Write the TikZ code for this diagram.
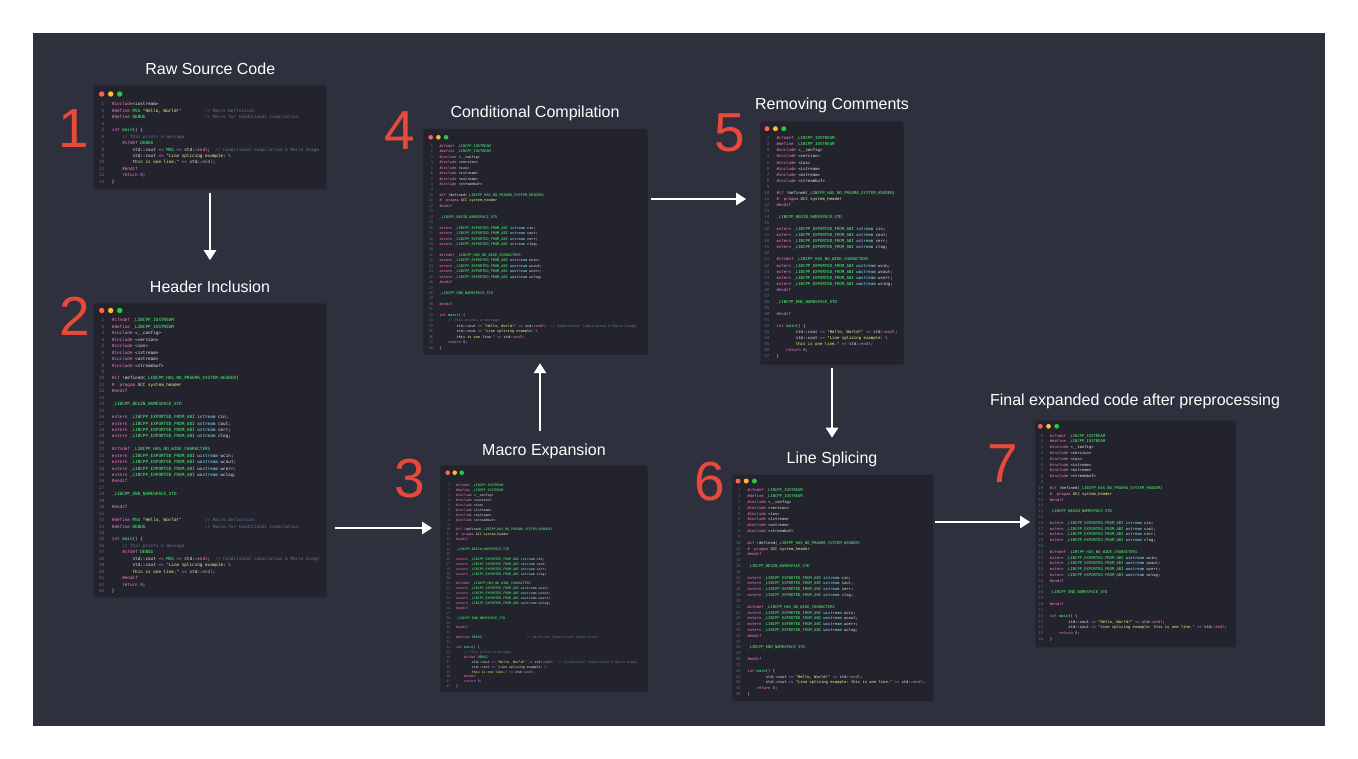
\documentclass[tikz,border=0pt]{standalone}
\usepackage{fontspec}
\setmainfont{Liberation Sans}
\setmonofont{DejaVu Sans Mono}
\usepackage{array}
\usetikzlibrary{arrows.meta}
\definecolor{cframe}{HTML}{2F303E}
\definecolor{cpanel}{HTML}{22232D}
\definecolor{cnumred}{HTML}{E8493B}
\definecolor{ckw}{HTML}{FF79C6}
\definecolor{cmac}{HTML}{50FA7B}
\definecolor{ccm}{HTML}{6C7396}
\definecolor{cstr}{HTML}{F1FA8C}
\definecolor{cty}{HTML}{8BE9FD}
\definecolor{cnum}{HTML}{BD93F9}
\definecolor{cfg}{HTML}{E8E8E2}
\definecolor{cln}{HTML}{6A6D80}
\definecolor{dotR}{HTML}{FF5F57}
\definecolor{dotY}{HTML}{FEBC2E}
\definecolor{dotG}{HTML}{28C840}
\newcommand\cxK[1]{\textcolor{ckw}{#1}}
\newcommand\cxG[1]{\textcolor{cmac}{#1}}
\newcommand\cxC[1]{\textcolor{ccm}{#1}}
\newcommand\cxY[1]{\textcolor{cstr}{#1}}
\newcommand\cxB[1]{\textcolor{cty}{#1}}
\newcommand\cxN[1]{\textcolor{cnum}{#1}}
\newcommand\pad[1]{\hspace*{\dimexpr 0.602em*#1\relax}}
\newcommand\Ldefmsg{\cxK{\#define} \cxG{MSG} \cxY{"Hello, World!"}\pad{9}\cxC{// Macro Definition}}
\newcommand\Ldefdbg{\cxK{\#define} \cxG{DEBUG}\pad{23}\cxC{// Macro for Conditional Compilation}}
\newcommand\Lmain{\cxK{int} \cxG{main}() \{}
\newcommand\Lcmt{\pad{4}\cxC{// This prints a message}}
\newcommand\Lifdef{\pad{4}\cxK{\#ifdef} \cxG{DEBUG}}
\newcommand\Lcoutmsg{\pad{8}std::cout \cxK{<<} \cxG{MSG} \cxK{<<} std::\cxK{endl};\pad{2}\cxC{// Conditional Compilation \& Macro Usage}}
\newcommand\Lcouthello{\pad{8}std::cout \cxK{<<} \cxY{"Hello, World!"} \cxK{<<} std::\cxK{endl};\pad{2}\cxC{// Conditional Compilation \& Macro Usage}}
\newcommand\Lhello{\pad{8}std::cout \cxK{<<} \cxY{"Hello, World!"} \cxK{<<} std::\cxK{endl};}
\newcommand\Lsplice{\pad{8}std::cout \cxK{<<} \cxY{"Line splicing example: \textbackslash}}
\newcommand\Lone{\pad{8}\cxY{this is one line."} \cxK{<<} std::\cxK{endl};}
\newcommand\Ljoined{\pad{8}std::cout \cxK{<<} \cxY{"Line splicing example: this is one line."} \cxK{<<} std::\cxK{endl};}
\newcommand\Lendif{\pad{4}\cxK{\#endif}}
\newcommand\Lret{\pad{4}\cxK{return} \cxN{0};}
\newcommand\Lclose{\}}
\newcommand\hdr{%
1 & \cxK{\#ifndef} \cxG{\_LIBCPP\_IOSTREAM} \\
2 & \cxK{\#define} \cxG{\_LIBCPP\_IOSTREAM} \\
3 & \cxK{\#include} <\_\_config> \\
4 & \cxK{\#include} <version> \\
5 & \cxK{\#include} <ios> \\
6 & \cxK{\#include} <istream> \\
7 & \cxK{\#include} <ostream> \\
8 & \cxK{\#include} <streambuf> \\
9 & \\
10 & \cxK{\#if} !defined(\cxG{\_LIBCPP\_HAS\_NO\_PRAGMA\_SYSTEM\_HEADER}) \\
11 & \cxK{\#}\pad{2}\cxK{pragma} \cxY{GCC system\_header} \\
12 & \cxK{\#endif} \\
13 & \\
14 & \cxG{\_LIBCPP\_BEGIN\_NAMESPACE\_STD} \\
15 & \\
16 & \cxK{extern} \cxG{\_LIBCPP\_EXPORTED\_FROM\_ABI} \cxB{istream} cin; \\
17 & \cxK{extern} \cxG{\_LIBCPP\_EXPORTED\_FROM\_ABI} \cxB{ostream} cout; \\
18 & \cxK{extern} \cxG{\_LIBCPP\_EXPORTED\_FROM\_ABI} \cxB{ostream} cerr; \\
19 & \cxK{extern} \cxG{\_LIBCPP\_EXPORTED\_FROM\_ABI} \cxB{ostream} clog; \\
20 & \\
21 & \cxK{\#ifndef} \cxG{\_LIBCPP\_HAS\_NO\_WIDE\_CHARACTERS} \\
22 & \cxK{extern} \cxG{\_LIBCPP\_EXPORTED\_FROM\_ABI} \cxB{wistream} wcin; \\
23 & \cxK{extern} \cxG{\_LIBCPP\_EXPORTED\_FROM\_ABI} \cxB{wostream} wcout; \\
24 & \cxK{extern} \cxG{\_LIBCPP\_EXPORTED\_FROM\_ABI} \cxB{wostream} wcerr; \\
25 & \cxK{extern} \cxG{\_LIBCPP\_EXPORTED\_FROM\_ABI} \cxB{wostream} wclog; \\
26 & \cxK{\#endif} \\
27 & \\
28 & \cxG{\_LIBCPP\_END\_NAMESPACE\_STD} \\
29 & \\
30 & \cxK{\#endif} \\}
\newcommand\codeblock[6]{%
  \node[codetext, font={\ttfamily\fontsize{#4}{#5}\selectfont}, anchor=base west] (#1) at ({#2-3*#4}, #3)
  {\begin{tabular}[t]{@{}>{\color{cln}}r@{\hspace{1.8em}}l@{}}#6\end{tabular}};}
\newcommand\wdots[4]{%
  \fill[dotR] (#1,#2) circle (#4pt);
  \fill[dotY] ({#1+#3},#2) circle (#4pt);
  \fill[dotG] ({#1+2*#3},#2) circle (#4pt);}
\begin{document}
\begin{tikzpicture}[x=1pt,y=-1pt,
  panel/.style={fill=cpanel, draw=none, rounded corners=1.5pt, inner sep=0},
  codetext/.style={inner sep=0, text=cfg},
  ttl/.style={inner sep=0, text=white, font=\fontsize{16}{19}\selectfont},
  bignum/.style={inner sep=0, text=cnumred, font=\fontsize{55}{60}\selectfont},
  flow/.style={draw=white, line width=2.8pt, -{Triangle[length=10pt,width=12pt]}}]
\fill[white] (0,0) rectangle (1358,759);
\path[use as bounding box] (0,0) rectangle (1358,759);
\fill[cframe] (33,33) rectangle (1325,726);

% panels
\node[panel, minimum width=233pt, minimum height=104pt] (P1) at (210,137.5) {};
\node[panel, minimum width=233pt, minimum height=294.4pt] (P2) at (210,450.5) {};
\node[panel, minimum width=207.2pt, minimum height=226.7pt] (P3) at (543.9,578.7) {};
\node[panel, minimum width=224.4pt, minimum height=226pt] (P4) at (535.5,242) {};
\node[panel, minimum width=143.4pt, minimum height=243.4pt] (P5) at (832,243) {};
\node[panel, minimum width=200.7pt, minimum height=226.3pt] (P6) at (832.7,587.9) {};
\node[panel, minimum width=200.7pt, minimum height=226.6pt] (P7) at (1135.7,534) {};

% window dots
\wdots{101.7}{94}{9}{2.7}
\wdots{101.7}{310.5}{9}{2.7}
\wdots{447.7}{472.7}{7}{2.3}
\wdots{430.7}{137.3}{7.7}{2.3}
\wdots{767}{128.7}{8.4}{2.5}
\wdots{738}{481}{8.2}{2.5}
\wdots{1040.3}{426.3}{8.2}{2.4}

% code
\codeblock{C1}{111.7}{106}{4.3}{6.44}{%
1 & \cxK{\#include}<iostream> \\
2 & \Ldefmsg \\
3 & \Ldefdbg \\
4 & \\
5 & \Lmain \\
6 & \Lcmt \\
7 & \Lifdef \\
8 & \Lcoutmsg \\
9 & \Lsplice \\
10 & \Lone \\
11 & \Lendif \\
12 & \Lret \\
13 & \Lclose}
\codeblock{C2}{111.7}{322}{4.3}{6.44}{\hdr
31 & \\
32 & \Ldefmsg \\
33 & \Ldefdbg \\
34 & \\
35 & \Lmain \\
36 & \Lcmt \\
37 & \Lifdef \\
38 & \Lcoutmsg \\
39 & \Lsplice \\
40 & \Lone \\
41 & \Lendif \\
42 & \Lret \\
43 & \Lclose}
\codeblock{C3}{456}{486.8}{3.26}{4.9}{\hdr
31 & \\
32 & \Ldefdbg \\
33 & \\
34 & \Lmain \\
35 & \Lcmt \\
36 & \Lifdef \\
37 & \Lcouthello \\
38 & \Lsplice \\
39 & \Lone \\
40 & \Lendif \\
41 & \Lret \\
42 & \Lclose}
\codeblock{C4}{439.3}{147.4}{3.55}{5.45}{\hdr
31 & \\
32 & \Lmain \\
33 & \Lcmt \\
34 & \Lcouthello \\
35 & \Lsplice \\
36 & \Lone \\
37 & \Lret \\
38 & \Lclose}
\codeblock{C5}{776.3}{139.8}{4.02}{6.06}{\hdr
31 & \\
32 & \Lmain \\
33 & \Lhello \\
34 & \Lsplice \\
35 & \Lone \\
36 & \Lret \\
37 & \Lclose}
\codeblock{C6}{747.3}{491.8}{3.82}{5.82}{\hdr
31 & \\
32 & \Lmain \\
33 & \Lhello \\
34 & \Ljoined \\
35 & \Lret \\
36 & \Lclose}
\codeblock{C7}{1049.7}{437.1}{3.82}{5.81}{\hdr
31 & \\
32 & \Lmain \\
33 & \Lhello \\
34 & \Ljoined \\
35 & \Lret \\
36 & \Lclose}

% titles
\node[ttl, anchor=base] (T1) at (210.3,74.3) {Raw Source Code};
\node[ttl, anchor=base] (T2) at (210,293) {Header Inclusion};
\node[ttl, anchor=base] (T3) at (544,455) {Macro Expansion};
\node[ttl, anchor=base] (T4) at (535,118) {Conditional Compilation};
\node[ttl, anchor=base] (T5) at (832,110) {Removing Comments};
\node[ttl, anchor=base] (T6) at (832,463) {Line Splicing};
\node[ttl, anchor=base] (T7) at (1135,405.7) {Final expanded code after preprocessing};

% step numbers
\node[bignum, anchor=base] (N1) at (74,148) {1};
\node[bignum, anchor=base] (N2) at (75,336) {2};
\node[bignum, anchor=base] (N3) at (410,497) {3};
\node[bignum, anchor=base] (N4) at (400,150) {4};
\node[bignum, anchor=base] (N5) at (730,152) {5};
\node[bignum, anchor=base] (N6) at (710,500) {6};
\node[bignum, anchor=base] (N7) at (1003,482) {7};

% connectors
\coordinate (row528) at (0,528);
\coordinate (row199) at (0,199);
\coordinate (row522) at (0,522);
\coordinate (col540) at (540,0);
\draw[flow, shorten <=3pt, shorten >=21pt] (P1.south) -- (P1.south |- T2.north);
\draw[flow, shorten <=8.5pt, shorten >=8pt] (P2.east |- row528) -- (P3.west |- row528);
\draw[flow, shorten <=12pt, shorten >=8pt] (T3.north -| col540) -- (P4.south -| col540);
\draw[flow, shorten <=3.5pt, shorten >=14pt] (P4.east |- row199) -- (P5.west |- row199);
\draw[flow, shorten <=3.5pt, shorten >=13.5pt] (P5.south) -- (P5.south |- T6.north);
\draw[flow, shorten <=2pt, shorten >=5pt] (P6.east |- row522) -- (P7.west |- row522);
\end{tikzpicture}
\end{document}
